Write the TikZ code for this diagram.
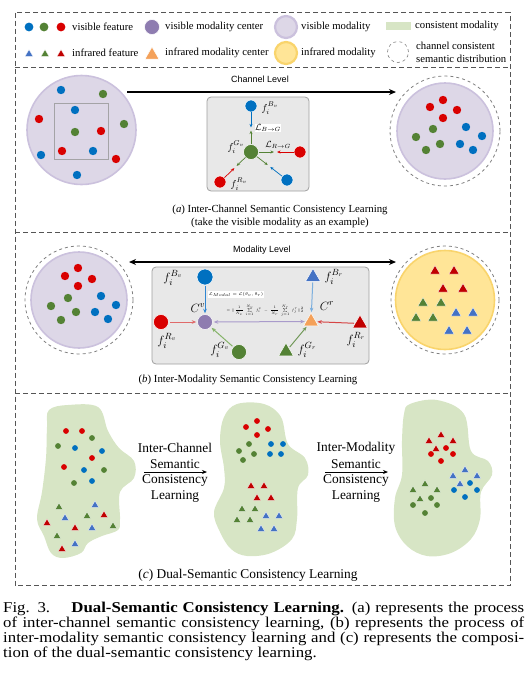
\documentclass[tikz,border=0pt]{standalone}
\usepackage{amsmath}
\usepackage{fontspec}
\setmainfont{Liberation Serif}
\newfontfamily\sansf{Liberation Sans}
\newfontfamily\capfont[FakeStretch=1.12]{Liberation Serif}
\usetikzlibrary{arrows.meta,calc,shapes.geometric}

\definecolor{cblue}{HTML}{0070C0}
\definecolor{cgreen}{HTML}{548235}
\definecolor{cred}{HTML}{D90000}
\definecolor{tblue}{HTML}{4472C4}
\definecolor{tgreen}{HTML}{548235}
\definecolor{tred}{HTML}{C00000}
\definecolor{cpurple}{HTML}{8E7CB0}
\definecolor{corange}{HTML}{F4A15A}
\definecolor{lpurple}{HTML}{DDD7E7}
\definecolor{lpurpleb}{HTML}{CBC1DD}
\definecolor{lyellow}{HTML}{FFE597}
\definecolor{lyellowb}{HTML}{F9D46C}
\definecolor{lgreen}{HTML}{D7E5C5}
\definecolor{boxgray}{HTML}{E8E8E8}
\definecolor{boxborder}{HTML}{A0A0A0}
\definecolor{dashgray}{HTML}{555555}
\definecolor{ablue}{HTML}{2F86D2}
\definecolor{ared}{HTML}{E06A6A}
\definecolor{agreen}{HTML}{86B46A}
\definecolor{apurple}{HTML}{A99BCB}
\definecolor{ltblue}{HTML}{7BAFDE}
\definecolor{dred}{HTML}{D64545}

\newcommand\featdot[4][4.2]{\fill[#2] (#3,#4) circle[radius=#1pt];}
\newcommand\feattri[4][1]{\filldraw[fill=#2,draw=white,line width=0.3pt,shift={(#3,#4)},scale=#1] (0,-5.5) -- (5,3) -- (-5,3) -- cycle;}
\newcommand\meetpair[4]{%
  \coordinate (mm) at ($(#1)!0.5!(#3)$);
  \draw[tipa,#2] (#1) -- ($(mm)!1.6pt!(#1)$);
  \draw[tipa,#4] (#3) -- ($(mm)!1.6pt!(#3)$);}

\tikzset{
  panel/.style={draw=dashgray,line width=1pt,dash pattern=on 5pt off 3pt},
  leg/.style={anchor=west,inner sep=0pt,font=\fontsize{10.7}{13}\selectfont},
  bdot/.style={circle,fill=#1,draw=white,line width=0.5pt,inner sep=0pt},
  btri/.style={regular polygon,regular polygon sides=3,fill=#1,draw=white,line width=0.5pt,inner sep=0pt,minimum size=17pt},
  vmod/.style={circle,fill=lpurple,draw=lpurpleb,line width=1.6pt,inner sep=0pt},
  imod/.style={circle,fill=lyellow,draw=lyellowb,line width=1.6pt,inner sep=0pt},
  dcirc/.style={circle,draw=gray,dashed,line width=0.8pt,inner sep=0pt},
  gbox/.style={draw=boxborder,fill=boxgray,rounded corners=4pt,line width=0.8pt,inner sep=0pt},
  tipa/.style={-{Stealth[length=3.5pt,width=3pt]},line width=0.7pt},
  tipb/.style={-{Stealth[length=4.5pt,width=3.6pt]},line width=1pt,shorten >=1pt,shorten <=1pt},
  bigarrow/.style={line width=1.3pt},
  lvl/.style={font=\sansf\fontsize{9}{10}\selectfont,inner sep=0pt},
  fl/.style={inner sep=0pt,font=\fontsize{10}{12}\selectfont},
  flb/.style={inner sep=0pt,font=\fontsize{12.5}{14}\selectfont},
  capa/.style={inner sep=0pt,font=\fontsize{10.8}{13}\selectfont,align=center},
  capc/.style={inner sep=0pt,font=\fontsize{13.4}{16}\selectfont},
  blob/.style={fill=lgreen},
}

\begin{document}
\begin{tikzpicture}[x=1pt,y=-1pt]
\useasboundingbox (0,0) rectangle (532,673);

% ---------- frames ----------
\draw[panel] (15,12.5) rectangle (510,585);
\draw[panel] (15,67) -- (510,67);
\draw[panel] (15,232) -- (510,232);
\draw[panel] (15,393) -- (510,393);

% ---------- legend ----------
\featdot[4.4]{cblue}{29}{27}
\featdot[4.4]{cgreen}{44}{27}
\featdot[4.4]{cred}{61}{27}
\node[leg] (lvf) at (72,27) {visible feature};
\node[bdot=cpurple,minimum size=15pt] (lvc) at (152,27) {};
\node[leg] (lvct) at (165,27) {visible modality center};
\node[vmod,line width=2.2pt,minimum size=22pt] (lvm) at (286,27) {};
\node[leg] (lvmt) at (301,27) {visible modality};
\node[fill=lgreen,minimum width=25pt,minimum height=8pt,inner sep=0pt] (lcm) at (398.5,26) {};
\node[leg] (lcmt) at (415,26) {consistent modality};
\feattri[0.8]{tblue}{29}{54}
\feattri[0.8]{tgreen}{45}{54}
\feattri[0.8]{tred}{61}{54}
\node[leg] (lif) at (72,53) {infrared feature};
\node[btri=corange,minimum size=16pt] (lic) at (152,55) {};
\node[leg] (lict) at (165,53) {infrared modality center};
\node[imod,line width=2.2pt,minimum size=22pt] (lim) at (286,53) {};
\node[leg] (limt) at (301,53) {infrared modality};
\node[dcirc,line width=0.6pt,minimum size=21pt] (lcs) at (398,52) {};
\node[leg,align=left] (lcst) at (416,52.5) {channel consistent\\semantic distribution};

% ---------- panel (a) ----------
\node[vmod,minimum size=109pt] (va) at (81.5,130) {};
\node[draw=boxborder!90!lpurpleb,line width=0.8pt,minimum width=54pt,minimum height=56pt,inner sep=0pt] (sqa) at (81,131) {};
\featdot{cblue}{61}{90}
\featdot{cgreen}{103}{94}
\featdot{cblue}{75}{110}
\featdot{cred}{39}{119}
\featdot{cgreen}{124}{124}
\featdot{cgreen}{75}{132}
\featdot{cred}{101}{131}
\featdot{cred}{62}{151}
\featdot{cblue}{93}{151}
\featdot{cblue}{41}{155}
\featdot{cred}{116}{159}
\featdot{cblue}{77}{175}

\coordinate (chS) at (127,92);
\coordinate (chE) at (396,92);
\draw[bigarrow,-{Stealth[length=7pt,width=6pt]}] (chS) -- (chE);
\node[lvl] (chl) at (260,79) {Channel Level};

\node[dcirc,minimum size=110pt] (vad) at (445,131) {};
\node[vmod,minimum size=96pt] (vac) at (445,131) {};
\featdot{cred}{443}{100}
\featdot{cred}{430}{107}
\featdot{cred}{457}{110}
\featdot{cred}{443}{118}
\featdot{cgreen}{433}{129}
\featdot{cgreen}{416}{137}
\featdot{cgreen}{440}{144}
\featdot{cgreen}{426}{150}
\featdot{cblue}{466}{127}
\featdot{cblue}{482}{136}
\featdot{cblue}{460}{144}
\featdot{cblue}{473}{150}

\node[gbox,minimum width=102pt,minimum height=94pt] (boxa) at (258,144) {};
\node[bdot=cgreen,minimum size=15pt] (Ga) at (251,152) {};
\node[bdot=cblue,minimum size=12pt] (Ba) at (251,106) {};
\node[bdot=cred,minimum size=12pt] (Ra) at (300,152) {};
\node[bdot=cred,minimum size=12pt] (Rb) at (220,182) {};
\node[bdot=cblue,minimum size=12pt] (Bb) at (287,180) {};
\meetpair{Ga}{cgreen}{Ba}{cblue}
\meetpair{Ga}{cgreen}{Ra}{cred}
\meetpair{Ga}{cgreen}{Rb}{cred}
\meetpair{Ga}{cgreen}{Bb}{cblue}
\node[fl] (fBa) at (270,108) {$f_i^{B_v}$};
\node[fl] (fGa) at (236,147) {$f_i^{G_v}$};
\node[fl] (fRa) at (239,184) {$f_i^{R_v}$};
\node[fill=white,inner sep=0.6pt,font=\fontsize{9}{10}\selectfont] (LBG) at (268,128) {$\mathcal{L}_{B\to G}$};
\node[inner sep=0pt,font=\fontsize{9}{10}\selectfont] (LRG) at (278,144.5) {$\mathcal{L}_{R\to G}$};

\node[capa] (capa) at (280,216) {(\textit{a}) Inter-Channel Semantic Consistency Learning\\(take the visible modality as an example)};

% ---------- panel (b) ----------
\node[dcirc,minimum size=108pt] (vbd) at (79,300) {};
\node[vmod,minimum size=96pt] (vb) at (79,300) {};
\featdot{cred}{78}{268}
\featdot{cred}{65}{276}
\featdot{cred}{92}{279}
\featdot{cred}{78}{286}
\featdot{cgreen}{68}{298}
\featdot{cgreen}{51}{306}
\featdot{cgreen}{76}{312}
\featdot{cgreen}{61}{320}
\featdot{cblue}{101}{296}
\featdot{cblue}{116}{305}
\featdot{cblue}{95}{312}
\featdot{cblue}{108}{319}

\node[dcirc,minimum size=108pt] (ibd) at (445,300) {};
\node[imod,minimum size=99pt] (ib) at (445,300) {};
\feattri{tred}{435}{271}
\feattri{tred}{454}{271}
\feattri{tred}{443}{289}
\feattri{tred}{463}{289}
\feattri{tgreen}{423}{303}
\feattri{tgreen}{441}{303}
\feattri{tgreen}{416}{318}
\feattri{tgreen}{433}{318}
\feattri{tblue}{456}{313}
\feattri{tblue}{473}{313}
\feattri{tblue}{449}{331}
\feattri{tblue}{467}{331}

\coordinate (mlS) at (129,262);
\coordinate (mlE) at (396,262);
\draw[bigarrow,{Stealth[length=7pt,width=6pt]}-{Stealth[length=7pt,width=6pt]}] (mlS) -- (mlE);
\node[lvl] (mll) at (262,250) {Modality Level};

\node[gbox,minimum width=217pt,minimum height=97pt] (boxb) at (260.5,315.5) {};
\node[fill=white,inner sep=1.2pt,font=\fontsize{5.5}{6}\selectfont,scale=0.85] (frm1) at (236,294.5) {$\mathcal{L}_{Modal}=\mathcal{L}(\theta_v,\theta_r)$};
\node[inner sep=0pt,font=\fontsize{5.5}{6}\selectfont,scale=0.7] (frm2) at (265,310.5) {$=\|\,\dfrac{1}{N_v}\;\sum\limits_{i=1}^{N_v}\; f_i^v\;-\;\dfrac{1}{N_r}\;\sum\limits_{j=1}^{N_r}\; f_j^r\,\|_2^2$};

\node[bdot=cblue,minimum size=16pt] (Bv) at (205,277) {};
\node[bdot=cpurple,minimum size=15pt] (Cv) at (205,322) {};
\node[bdot=cred,minimum size=15pt] (Rv) at (161,322) {};
\node[bdot=cgreen,minimum size=15pt] (Gv) at (239,352) {};
\node[btri=tblue] (Br) at (313,277) {};
\node[btri=corange] (Cr) at (311,321.5) {};
\node[btri=tred] (Rr) at (360,323.5) {};
\node[btri=tgreen] (Gr) at (286,351.5) {};

\draw[tipb,ablue] (Bv) -- (Cv);
\draw[tipb,ared] (Rv) -- (Cv);
\draw[tipb,agreen] (Gv) -- (Cv);
\draw[tipb,apurple,{Stealth[length=4.5pt,width=3.6pt]}-{Stealth[length=4.5pt,width=3.6pt]}] (Cv) -- (Cr);
\draw[tipb,ltblue] (Br) -- (Cr);
\draw[tipb,dred] (Rr) -- (Cr);
\draw[tipb,agreen!85!black] (Gr) -- (Cr);

\node[flb] (fBv) at (173,278) {$f_i^{B_v}$};
\node[flb] (lCv) at (198,308) {$C^v$};
\node[flb] (fRv) at (167,341) {$f_i^{R_v}$};
\node[flb] (fGv) at (220,350) {$f_i^{G_v}$};
\node[flb] (fBr) at (334,277) {$f_i^{B_r}$};
\node[flb] (lCr) at (327,306) {$C^r$};
\node[flb] (fRr) at (356,340) {$f_i^{R_r}$};
\node[flb] (fGr) at (307,350) {$f_i^{G_r}$};

\node[capa] (capb) at (248,380) {(\textit{b}) Inter-Modality Semantic Consistency Learning};

% ---------- panel (c) ----------
\fill[blob] plot[smooth cycle,tension=0.6] coordinates {(49,410) (68,405) (98,407) (108,431) (119,448) (134,461) (134,478) (120,492) (120,519) (118,530) (102,536) (88,543) (81,553) (63,558) (51,553) (44,536) (37,519) (42,492) (46,458) (47,427)};
\fill[blob] plot[smooth cycle,tension=0.6] coordinates {(237,404) (264,404) (281,417) (288,444) (305,458) (308,475) (298,488) (297,519) (292,539) (271,553) (247,556) (231,549) (220,532) (214,512) (224,488) (224,468) (220,441) (224,417)};
\fill[blob] plot[smooth cycle,tension=0.6] coordinates {(410,404) (437,400) (464,414) (471,451) (488,461) (492,475) (481,492) (480,519) (471,539) (451,553) (427,556) (407,546) (395,526) (395,498) (402,475) (402,441) (404,414)};

% blob 1
\featdot[2.9]{cred}{66}{431}
\featdot[2.9]{cred}{82}{431}
\featdot[2.9]{cgreen}{92}{438}
\featdot[2.9]{cgreen}{58}{446}
\featdot[2.9]{cblue}{75}{448}
\featdot[2.9]{cblue}{102}{451}
\featdot[2.9]{cred}{92}{458}
\featdot[2.9]{cred}{64}{467}
\featdot[2.9]{cblue}{84}{470}
\featdot[2.9]{cgreen}{104}{470}
\featdot[2.9]{cgreen}{74}{483}
\featdot[2.9]{cblue}{92}{481}
\feattri[0.75]{tgreen}{59}{507}
\feattri[0.75]{tblue}{95}{505}
\feattri[0.75]{tblue}{65}{518}
\feattri[0.75]{tgreen}{87}{516}
\feattri[0.75]{tred}{104}{515}
\feattri[0.75]{tred}{47}{523}
\feattri[0.75]{tred}{75}{528}
\feattri[0.75]{tblue}{92}{528}
\feattri[0.75]{tgreen}{113}{526}
\feattri[0.75]{tgreen}{57}{536}
\feattri[0.75]{tblue}{75}{544}
\feattri[0.75]{tred}{62}{549}
% blob 2
\featdot[2.9]{cred}{257}{421}
\featdot[2.9]{cred}{246}{427}
\featdot[2.9]{cred}{268}{429}
\featdot[2.9]{cred}{257}{435}
\featdot[2.9]{cgreen}{249}{444}
\featdot[2.9]{cblue}{271}{444}
\featdot[2.9]{cblue}{283}{444}
\featdot[2.9]{cgreen}{239}{451}
\featdot[2.9]{cgreen}{254}{454}
\featdot[2.9]{cblue}{270}{454}
\featdot[2.9]{cblue}{281}{454}
\featdot[2.9]{cgreen}{243}{460}
\feattri[0.75]{tred}{251}{486}
\feattri[0.75]{tred}{264}{486}
\feattri[0.75]{tred}{257}{498}
\feattri[0.75]{tred}{271}{498}
\feattri[0.75]{tgreen}{242}{509}
\feattri[0.75]{tgreen}{255}{509}
\feattri[0.75]{tgreen}{237}{520}
\feattri[0.75]{tgreen}{250}{520}
\feattri[0.75]{tblue}{266}{516}
\feattri[0.75]{tblue}{279}{516}
\feattri[0.75]{tblue}{261}{529}
\feattri[0.75]{tblue}{274}{529}
% blob 3
\feattri[0.75]{tred}{441}{435}
\feattri[0.75]{tred}{429}{441}
\feattri[0.75]{tred}{453}{441}
\feattri[0.75]{tred}{436}{449}
\featdot[2.9]{cred}{446}{448}
\featdot[2.9]{cred}{431}{454}
\featdot[2.9]{cred}{453}{454}
\featdot[2.9]{cred}{441}{461}
\feattri[0.75]{tblue}{465}{470}
\feattri[0.75]{tblue}{453}{476}
\feattri[0.75]{tblue}{477}{476}
\feattri[0.75]{tblue}{460}{484}
\featdot[2.9]{cblue}{470}{483}
\featdot[2.9]{cblue}{454}{490}
\featdot[2.9]{cblue}{477}{490}
\featdot[2.9]{cblue}{465}{497}
\feattri[0.75]{tgreen}{425}{484}
\feattri[0.75]{tgreen}{413}{490}
\feattri[0.75]{tgreen}{437}{490}
\feattri[0.75]{tgreen}{420}{499}
\featdot[2.9]{cgreen}{431}{498}
\featdot[2.9]{cgreen}{413}{505}
\featdot[2.9]{cgreen}{437}{505}
\featdot[2.9]{cgreen}{425}{513}

\coordinate (a1S) at (144,472);
\coordinate (a1E) at (207,472);
\draw[line width=1pt,-{Stealth[length=5pt,width=4pt]}] (a1S) -- (a1E);
\node[capc] (t1a) at (175,448) {Inter-Channel};
\node[capc] (t1b) at (175,464) {Semantic};
\node[capc] (t1c) at (175,481) {Consistency};
\node[capc] (t1d) at (175,497) {Learning};
\coordinate (a2S) at (325,472);
\coordinate (a2E) at (388,472);
\draw[line width=1pt,-{Stealth[length=5pt,width=4pt]}] (a2S) -- (a2E);
\node[capc] (t2a) at (356,448) {Inter-Modality};
\node[capc] (t2b) at (356,464) {Semantic};
\node[capc] (t2c) at (356,481) {Consistency};
\node[capc] (t2d) at (356,497) {Learning};

\node[capc] (capc) at (248,575) {(\textit{c}) Dual-Semantic Consistency Learning};

% ---------- caption ----------
\begin{scope}[every node/.style={anchor=base west,inner sep=0pt,font=\capfont\fontsize{15}{15}\selectfont}]
\node (cl1) at (3,612) {\makebox[521pt][s]{Fig. 3.\hspace{0.9em} \textbf{Dual-Semantic Consistency Learning.} (a) represents the process}};
\node (cl2) at (3,627) {\makebox[521pt][s]{of inter-channel semantic consistency learning, (b) represents the process of}};
\node (cl3) at (3,642) {\makebox[521pt][s]{inter-modality semantic consistency learning and (c) represents the composi-}};
\node (cl4) at (3,657) {tion of the dual-semantic consistency learning.};
\end{scope}
\end{tikzpicture}
\end{document}
